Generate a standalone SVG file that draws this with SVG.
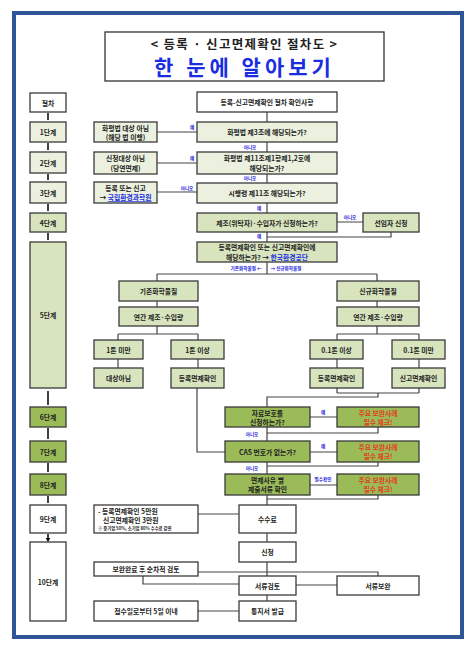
<svg xmlns="http://www.w3.org/2000/svg" width="474" height="651" viewBox="0 0 474 651">
<defs>
<style>
.t{font-family:"Noto Sans CJK KR","Noto Sans",sans-serif;font-weight:700;font-size:6.8px;fill:#222;text-anchor:middle;dominant-baseline:central}
.s{font-family:"Noto Sans CJK KR","Noto Sans",sans-serif;font-weight:700;font-size:4.6px;fill:#1a1adc;text-anchor:middle;dominant-baseline:central}
.r{fill:#e0401a}
.b{fill:#1a2ee0}
.bx{stroke:#3a3a3a;stroke-width:1.3}
.w{fill:#fff}
.p{fill:#ebf1de}
.m{fill:#d7e4bd}
.d{fill:#9bbb59}
.ln{stroke:#444;stroke-width:1.2;fill:none}
.ar{stroke:#111;stroke-width:1.6;fill:none;marker-end:url(#ah)}
</style>
<marker id="ah" viewBox="0 0 6 6" refX="3" refY="3" markerWidth="3" markerHeight="3" orient="auto"><path d="M0,0L6,3L0,6z" fill="#111"/></marker>
</defs>
<rect x="0" y="0" width="474" height="651" fill="#fff"/>
<rect x="14" y="13" width="448" height="624" fill="#fff" stroke="#2f5597" stroke-width="4"/>
<g id="title">
<rect x="105" y="32" width="279" height="49" fill="#fff" stroke="#333" stroke-width="1.3"/>
<text x="244.5" y="43" class="t" style="font-size:12.5px;letter-spacing:1.3px">&lt; 등록 · 신고면제확인 절차도 &gt;</text>
<text x="244.5" y="66" class="t b" style="font-size:21px;letter-spacing:4px">한 눈에 알아보기</text>
</g>
<g id="connectors">
<path class="ar" d="M48,113V120 M48,143V150 M48,174V180 M48,204V211 M48,233V240 M48,391V405 M48,428V439 M48,463V472 M48,496V503 M48,534V540"/>
<path class="ln" d="M267,112V122 M267,142V152 M267,174V183 M267,203V213 M267,232V242 M337,222H363 M391,232V237H267 M157,132H197 M157,163H197 M157,192H197"/>
<path class="ln" d="M267,262V274 M157,274H377 M157,274V281 M377,274V281 M157,301V307 M377,301V307 M157,326V334 M377,326V334 M118,334H198 M118,334V340 M198,334V340 M337,334H419 M337,334V340 M419,334V340 M118,359V368 M198,359V368 M337,359V368 M419,359V368"/>
<path class="ln" d="M337,388V393 M419,388V393 M337,393H419 M378,393V397H267V407 M197,388V452H225"/>
<path class="ln" d="M310,417H337 M267,427V441 M378,427V433H267 M310,452H337 M267,462V474 M378,462V466H267 M310,485H337 M378,495V499H267 M267,495V505"/>
<path class="ln" d="M198,514H239 M267,533V542 M267,562V576 M198,572H378V576 M143,576V584H239 M296,585H337 M267,595V601 M198,611H239"/>
<text x="192" y="127" class="s">예</text>
<text x="192" y="158" class="s">예</text>
<text x="187" y="188" class="s">아니오</text>
<text x="250" y="147" class="s">아니오</text>
<text x="250" y="178" class="s">아니오</text>
<text x="259" y="208" class="s">예</text>
<text x="350" y="217" class="s">아니오</text>
<text x="259" y="236" class="s">예</text>
<text x="246" y="268" class="s">기존화학물질 ←</text>
<text x="286" y="268" class="s">→ 신규화학물질</text>
<text x="323" y="412" class="s">예</text>
<text x="252" y="434" class="s">아니오</text>
<text x="323" y="446" class="s">예</text>
<text x="252" y="468" class="s">아니오</text>
<text x="323" y="479" class="s">필수확인</text>
</g>
<g id="stage0"><rect class="bx w" x="30" y="93" width="36" height="19"/><text x="48" y="102.5" class="t">절차</text></g>
<g id="stage1"><rect class="bx p" x="30" y="122" width="36" height="20"/><text x="48" y="132" class="t">1단계</text></g>
<g id="stage2"><rect class="bx p" x="30" y="152" width="36" height="21"/><text x="48" y="162.5" class="t">2단계</text></g>
<g id="stage3"><rect class="bx p" x="30" y="182" width="36" height="21"/><text x="48" y="192.5" class="t">3단계</text></g>
<g id="stage4"><rect class="bx m" x="30" y="213" width="36" height="19"/><text x="48" y="222.5" class="t">4단계</text></g>
<g id="stage5"><rect class="bx m" x="30" y="242" width="36" height="146"/><text x="48" y="315" class="t">5단계</text></g>
<g id="stage6"><rect class="bx d" x="30" y="407" width="36" height="20"/><text x="48" y="417" class="t">6단계</text></g>
<g id="stage7"><rect class="bx d" x="30" y="441" width="36" height="21"/><text x="48" y="451.5" class="t">7단계</text></g>
<g id="stage8"><rect class="bx d" x="30" y="474" width="36" height="21"/><text x="48" y="484.5" class="t">8단계</text></g>
<g id="stage9"><rect class="bx w" x="30" y="505" width="36" height="28"/><text x="48" y="519" class="t">9단계</text></g>
<g id="stage10"><rect class="bx w" x="30" y="542" width="36" height="79"/><text x="48" y="581.5" class="t">10단계</text></g>

<g id="n-check"><rect class="bx w" x="197" y="92" width="140" height="20"/><text x="267" y="102" class="t">등록-신고면제확인 절차 확인사항</text></g>
<g id="n-q1"><rect class="bx p" x="197" y="122" width="140" height="20"/><text x="267" y="132" class="t">화평법 제3조에 해당되는가?</text></g>
<g id="n-q2"><rect class="bx p" x="197" y="152" width="140" height="22"/><text x="267" y="158" class="t">화평법 제11조제1항제1,2호에</text><text x="267" y="168" class="t">해당되는가?</text></g>
<g id="n-q3"><rect class="bx p" x="197" y="183" width="140" height="20"/><text x="267" y="193" class="t">시행령 제11조 해당되는가?</text></g>
<g id="n-q4"><rect class="bx m" x="197" y="213" width="140" height="19"/><text x="267" y="222.5" class="t">제조(위탁자)·수입자가 신청하는가?</text></g>
<g id="n-agent"><rect class="bx m" x="363" y="213" width="56" height="19"/><text x="391" y="222.5" class="t">선임자 신청</text></g>
<g id="n-a1"><rect class="bx p" x="94" y="122" width="63" height="20"/><text x="125.5" y="127.5" class="t">화평법 대상 아님</text><text x="125.5" y="136.5" class="t">(해당 법 이행)</text></g>
<g id="n-a2"><rect class="bx p" x="94" y="152" width="63" height="22"/><text x="125.5" y="158" class="t">신청대상 아님</text><text x="125.5" y="168" class="t">(당연면제)</text></g>
<g id="n-a3"><rect class="bx p" x="94" y="182" width="63" height="21"/><text x="125.5" y="187.5" class="t">등록 또는 신고</text><text x="125.5" y="197" class="t">→ <tspan class="b" text-decoration="underline">국립환경과학원</tspan></text></g>
<g id="n-q5"><rect class="bx m" x="197" y="242" width="140" height="20"/><text x="267" y="247" class="t">등록면제확인 또는 신고면제확인에</text><text x="267" y="257" class="t">해당하는가? → <tspan class="b">한국환경공단</tspan></text></g>

<g id="n-exist"><rect class="bx m" x="119" y="281" width="79" height="20"/><text x="158.5" y="291" class="t">기존화학물질</text></g>
<g id="n-exist-vol"><rect class="bx m" x="119" y="307" width="79" height="19"/><text x="158.5" y="316.5" class="t">연간 제조·수입량</text></g>
<g id="n-lt1"><rect class="bx m" x="94" y="340" width="49" height="19"/><text x="118.5" y="349.5" class="t">1톤 미만</text></g>
<g id="n-na"><rect class="bx m" x="94" y="368" width="49" height="20"/><text x="118.5" y="378" class="t">대상아님</text></g>
<g id="n-ge1"><rect class="bx m" x="171" y="340" width="53" height="19"/><text x="197.5" y="349.5" class="t">1톤 이상</text></g>
<g id="n-reg1"><rect class="bx m" x="171" y="368" width="53" height="20"/><text x="197.5" y="378" class="t">등록면제확인</text></g>
<g id="n-new"><rect class="bx m" x="337" y="281" width="82" height="20"/><text x="378" y="291" class="t">신규화학물질</text></g>
<g id="n-new-vol"><rect class="bx m" x="337" y="307" width="82" height="19"/><text x="378" y="316.5" class="t">연간 제조·수입량</text></g>
<g id="n-ge01"><rect class="bx m" x="310" y="340" width="53" height="19"/><text x="336.5" y="349.5" class="t">0.1톤 이상</text></g>
<g id="n-lt01"><rect class="bx m" x="392" y="340" width="53" height="19"/><text x="418.5" y="349.5" class="t">0.1톤 미만</text></g>
<g id="n-reg2"><rect class="bx m" x="310" y="368" width="53" height="20"/><text x="336.5" y="378" class="t">등록면제확인</text></g>
<g id="n-rep"><rect class="bx m" x="392" y="368" width="53" height="20"/><text x="418.5" y="378" class="t">신고면제확인</text></g>

<g id="n-dp"><rect class="bx d" x="225" y="407" width="85" height="20"/><text x="267.5" y="412.5" class="t">자료보호를</text><text x="267.5" y="421.5" class="t">신청하는가?</text></g>
<g id="n-c1"><rect class="bx d" x="337" y="407" width="82" height="20"/><text x="378" y="412.5" class="t r">주요 보완사례</text><text x="378" y="421.5" class="t r">필수 체크!</text></g>
<g id="n-cas"><rect class="bx d" x="225" y="441" width="85" height="21"/><text x="267.5" y="451.5" class="t">CAS 번호가  없는가?</text></g>
<g id="n-c2"><rect class="bx d" x="337" y="441" width="82" height="21"/><text x="378" y="446.5" class="t r">주요 보완사례</text><text x="378" y="456" class="t r">필수 체크!</text></g>
<g id="n-doc"><rect class="bx d" x="225" y="474" width="85" height="21"/><text x="267.5" y="479.5" class="t">면제사유 별</text><text x="267.5" y="489" class="t">제출서류 확인</text></g>
<g id="n-c3"><rect class="bx d" x="337" y="474" width="82" height="21"/><text x="378" y="479.5" class="t r">주요 보완사례</text><text x="378" y="489" class="t r">필수 체크!</text></g>

<g id="n-feeinfo"><rect class="bx w" x="94" y="505" width="104" height="28"/><text x="98" y="511" class="t" style="text-anchor:start">- 등록면제확인 5만원</text><text x="103" y="519.5" class="t" style="text-anchor:start">신고면제확인 3만원</text><text x="98" y="527.5" class="t" style="text-anchor:start;font-size:4.3px">※ 중기업 50%, 소기업 80% 수수료 감면</text></g>
<g id="n-fee"><rect class="bx w" x="239" y="505" width="57" height="28"/><text x="267.5" y="519" class="t">수수료</text></g>
<g id="n-apply"><rect class="bx w" x="239" y="542" width="57" height="20"/><text x="267.5" y="552" class="t">신청</text></g>
<g id="n-supp"><rect class="bx w" x="94" y="562" width="104" height="14"/><text x="146" y="569" class="t">보완완료 후 순차적 검토</text></g>
<g id="n-review"><rect class="bx w" x="239" y="576" width="57" height="19"/><text x="267.5" y="585.5" class="t">서류검토</text></g>
<g id="n-fix"><rect class="bx w" x="337" y="576" width="82" height="19"/><text x="378" y="585.5" class="t">서류보완</text></g>
<g id="n-5d"><rect class="bx w" x="94" y="601" width="104" height="20"/><text x="146" y="611" class="t">접수일로부터 5일 이내</text></g>
<g id="n-notice"><rect class="bx w" x="239" y="601" width="57" height="20"/><text x="267.5" y="611" class="t">통지서 발급</text></g>
</svg>
